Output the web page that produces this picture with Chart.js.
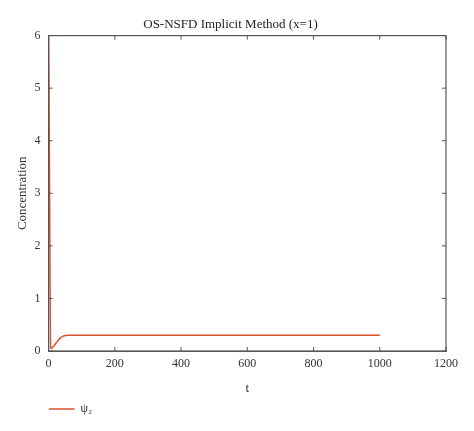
<!DOCTYPE html>
<html>
<head>
<meta charset="utf-8">
<script src="https://cdn.jsdelivr.net/npm/chart.js@4.4.0/dist/chart.umd.min.js"></script>
<style>
  html, body { margin: 0; padding: 0; background: #fff; }
  #wrap { width: 474px; height: 431px; }
</style>
</head>
<body>
<div id="wrap"><canvas id="chart" width="474" height="431"></canvas></div>
<script>
// valores
const tiempos = [0, 2, 4, 6, 8, 12, 16, 20, 25, 30, 35, 40, 45, 50, 55, 60, 70, 80, 100, 200, 400, 600, 800, 1000];
const psi2 = [6, 4.2, 1.8, 0.06, 0.05, 0.07, 0.1, 0.13, 0.17, 0.21, 0.245, 0.27, 0.285, 0.293, 0.297, 0.3, 0.3, 0.3, 0.3, 0.3, 0.3, 0.3, 0.3, 0.3];
const ticksX = [0, 200, 400, 600, 800, 1000, 1200];
const ticksY = [0, 1, 2, 3, 4, 5, 6];

const colorLinea = "#d9532f";
const colorEje = "#555555";
const fuente = "'Liberation Serif', 'DejaVu Serif', serif";

// marco y ticks hacia adentro como en matlab
const marcoPlugin = {
    id: "marco",
    afterDraw(chart) {
        const { ctx, chartArea: a, scales } = chart;
        ctx.save();
        ctx.strokeStyle = colorEje;
        ctx.lineWidth = 1.2;
        ctx.strokeRect(a.left, a.top, a.right - a.left, a.bottom - a.top);
        ctx.lineWidth = 1;
        ticksX.forEach((v) => {
            const x = scales.x.getPixelForValue(v);
            ctx.beginPath();
            ctx.moveTo(x, a.bottom); ctx.lineTo(x, a.bottom - 4);
            ctx.moveTo(x, a.top); ctx.lineTo(x, a.top + 4);
            ctx.stroke();
        });
        ticksY.forEach((v) => {
            const y = scales.y.getPixelForValue(v);
            ctx.beginPath();
            ctx.moveTo(a.left, y); ctx.lineTo(a.left + 4, y);
            ctx.moveTo(a.right, y); ctx.lineTo(a.right - 4, y);
            ctx.stroke();
        });
        ctx.restore();
    },
};

new Chart(document.getElementById("chart"), {
    type: "line",
    data: {
        datasets: [
            {
                label: "ψ₂",
                data: tiempos.map((t, i) => ({ x: t, y: psi2[i] })),
                borderColor: colorLinea,
                backgroundColor: colorLinea,
                borderWidth: 1.5,
                pointRadius: 0,
                tension: 0.3,
                fill: false,
            },
        ],
    },
    options: {
        responsive: false,
        animation: false,
        layout: { padding: { left: 15, right: 28, top: 11, bottom: 6 } },
        plugins: {
            title: {
                display: true,
                text: "OS-NSFD Implicit Method (x=1)",
                color: "#222",
                font: { family: fuente, size: 13, weight: "normal" },
                padding: { top: 6, bottom: 3 },
            },
            legend: {
                position: "bottom",
                align: "start",
                fullSize: false,
                labels: {
                    boxWidth: 26,
                    boxHeight: 0,
                    color: "#333",
                    font: { family: fuente, size: 12 },
                    padding: 0,
                },
            },
            tooltip: { enabled: false },
        },
        scales: {
            x: {
                type: "linear",
                min: 0,
                max: 1200,
                grid: { display: false, drawTicks: false },
                border: { color: colorEje },
                afterBuildTicks: (s) => { s.ticks = ticksX.map((v) => ({ value: v })); },
                ticks: { color: "#333", padding: 6, maxRotation: 0, font: { family: fuente, size: 12 }, callback: (v) => String(v) },
                title: { display: true, text: "t", color: "#333", font: { family: fuente, size: 13 }, padding: { top: 3, bottom: 7 } },
            },
            y: {
                min: 0,
                max: 6,
                grid: { display: false, drawTicks: false },
                border: { color: colorEje },
                afterBuildTicks: (s) => { s.ticks = ticksY.map((v) => ({ value: v })); },
                ticks: { color: "#333", padding: 8, font: { family: fuente, size: 12 }, callback: (v) => String(v) },
                title: { display: true, text: "Concentration", color: "#333", font: { family: fuente, size: 13 }, padding: { top: 0, bottom: -4 } },
            },
        },
    },
    plugins: [marcoPlugin],
});
</script>
</body>
</html>
